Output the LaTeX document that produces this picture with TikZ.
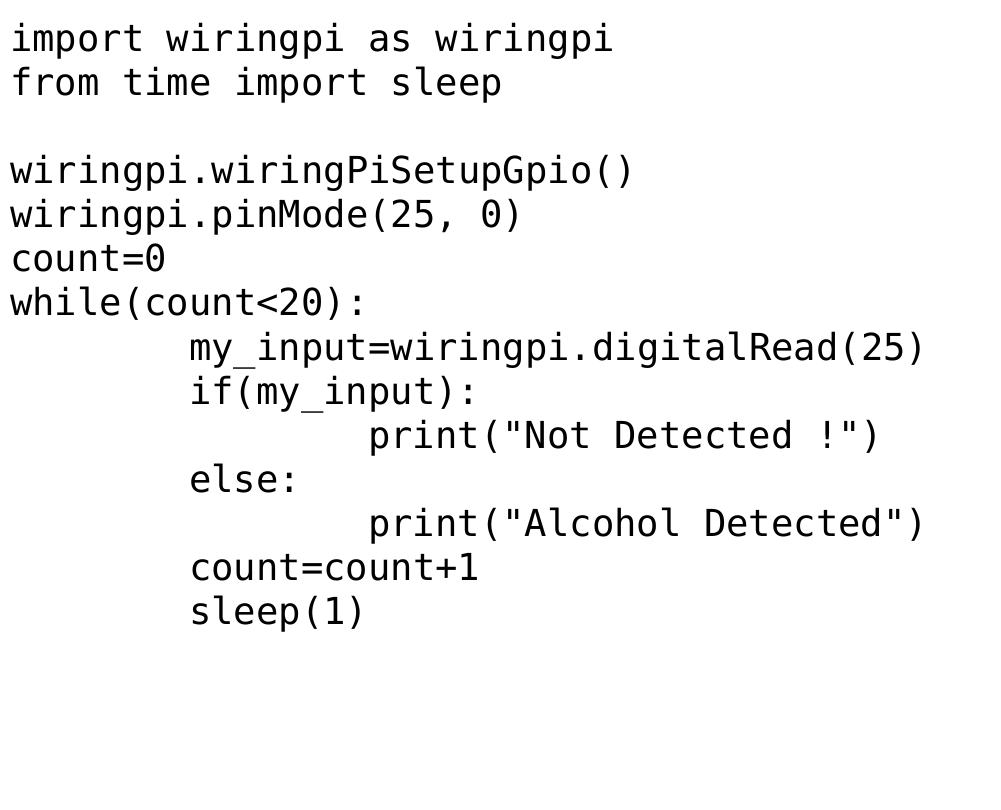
\documentclass[tikz,border=0pt]{standalone}
\usepackage{fontspec}
\setmonofont{DejaVu Sans Mono}
\begin{document}
\begin{tikzpicture}[x=1pt,y=-1pt,code/.style={anchor=base west,inner sep=0pt,font=\ttfamily\fontsize{37.2}{44}\selectfont}]
\useasboundingbox[fill=white] (0,0) rectangle (1001,810);
\def\cw{22.4}
\node[code] (l0) at (10,52) {import wiringpi as wiringpi};
\node[code] (l1) at (10,96) {from time import sleep};
\node[code] (l3) at (10,184) {wiringpi.wiringPiSetupGpio()};
\node[code] (l4) at (10,228) {wiringpi.pinMode(25, 0)};
\node[code] (l5) at (10,272) {count=0};
\node[code] (l6) at (10,316) {while(count<20):};
\node[code] (l7) at (189,360) {my\_input=wiringpi.digitalRead(25)};
\node[code] (l8) at (189,404) {if(my\_input):};
\node[code] (l9) at (368,448) {print("Not Detected !")};
\node[code] (l10) at (189,492) {else:};
\node[code] (l11) at (368,536) {print("Alcohol Detected")};
\node[code] (l12) at (189,580) {count=count+1};
\node[code] (l13) at (189,624) {sleep(1)};
\end{tikzpicture}
\end{document}
